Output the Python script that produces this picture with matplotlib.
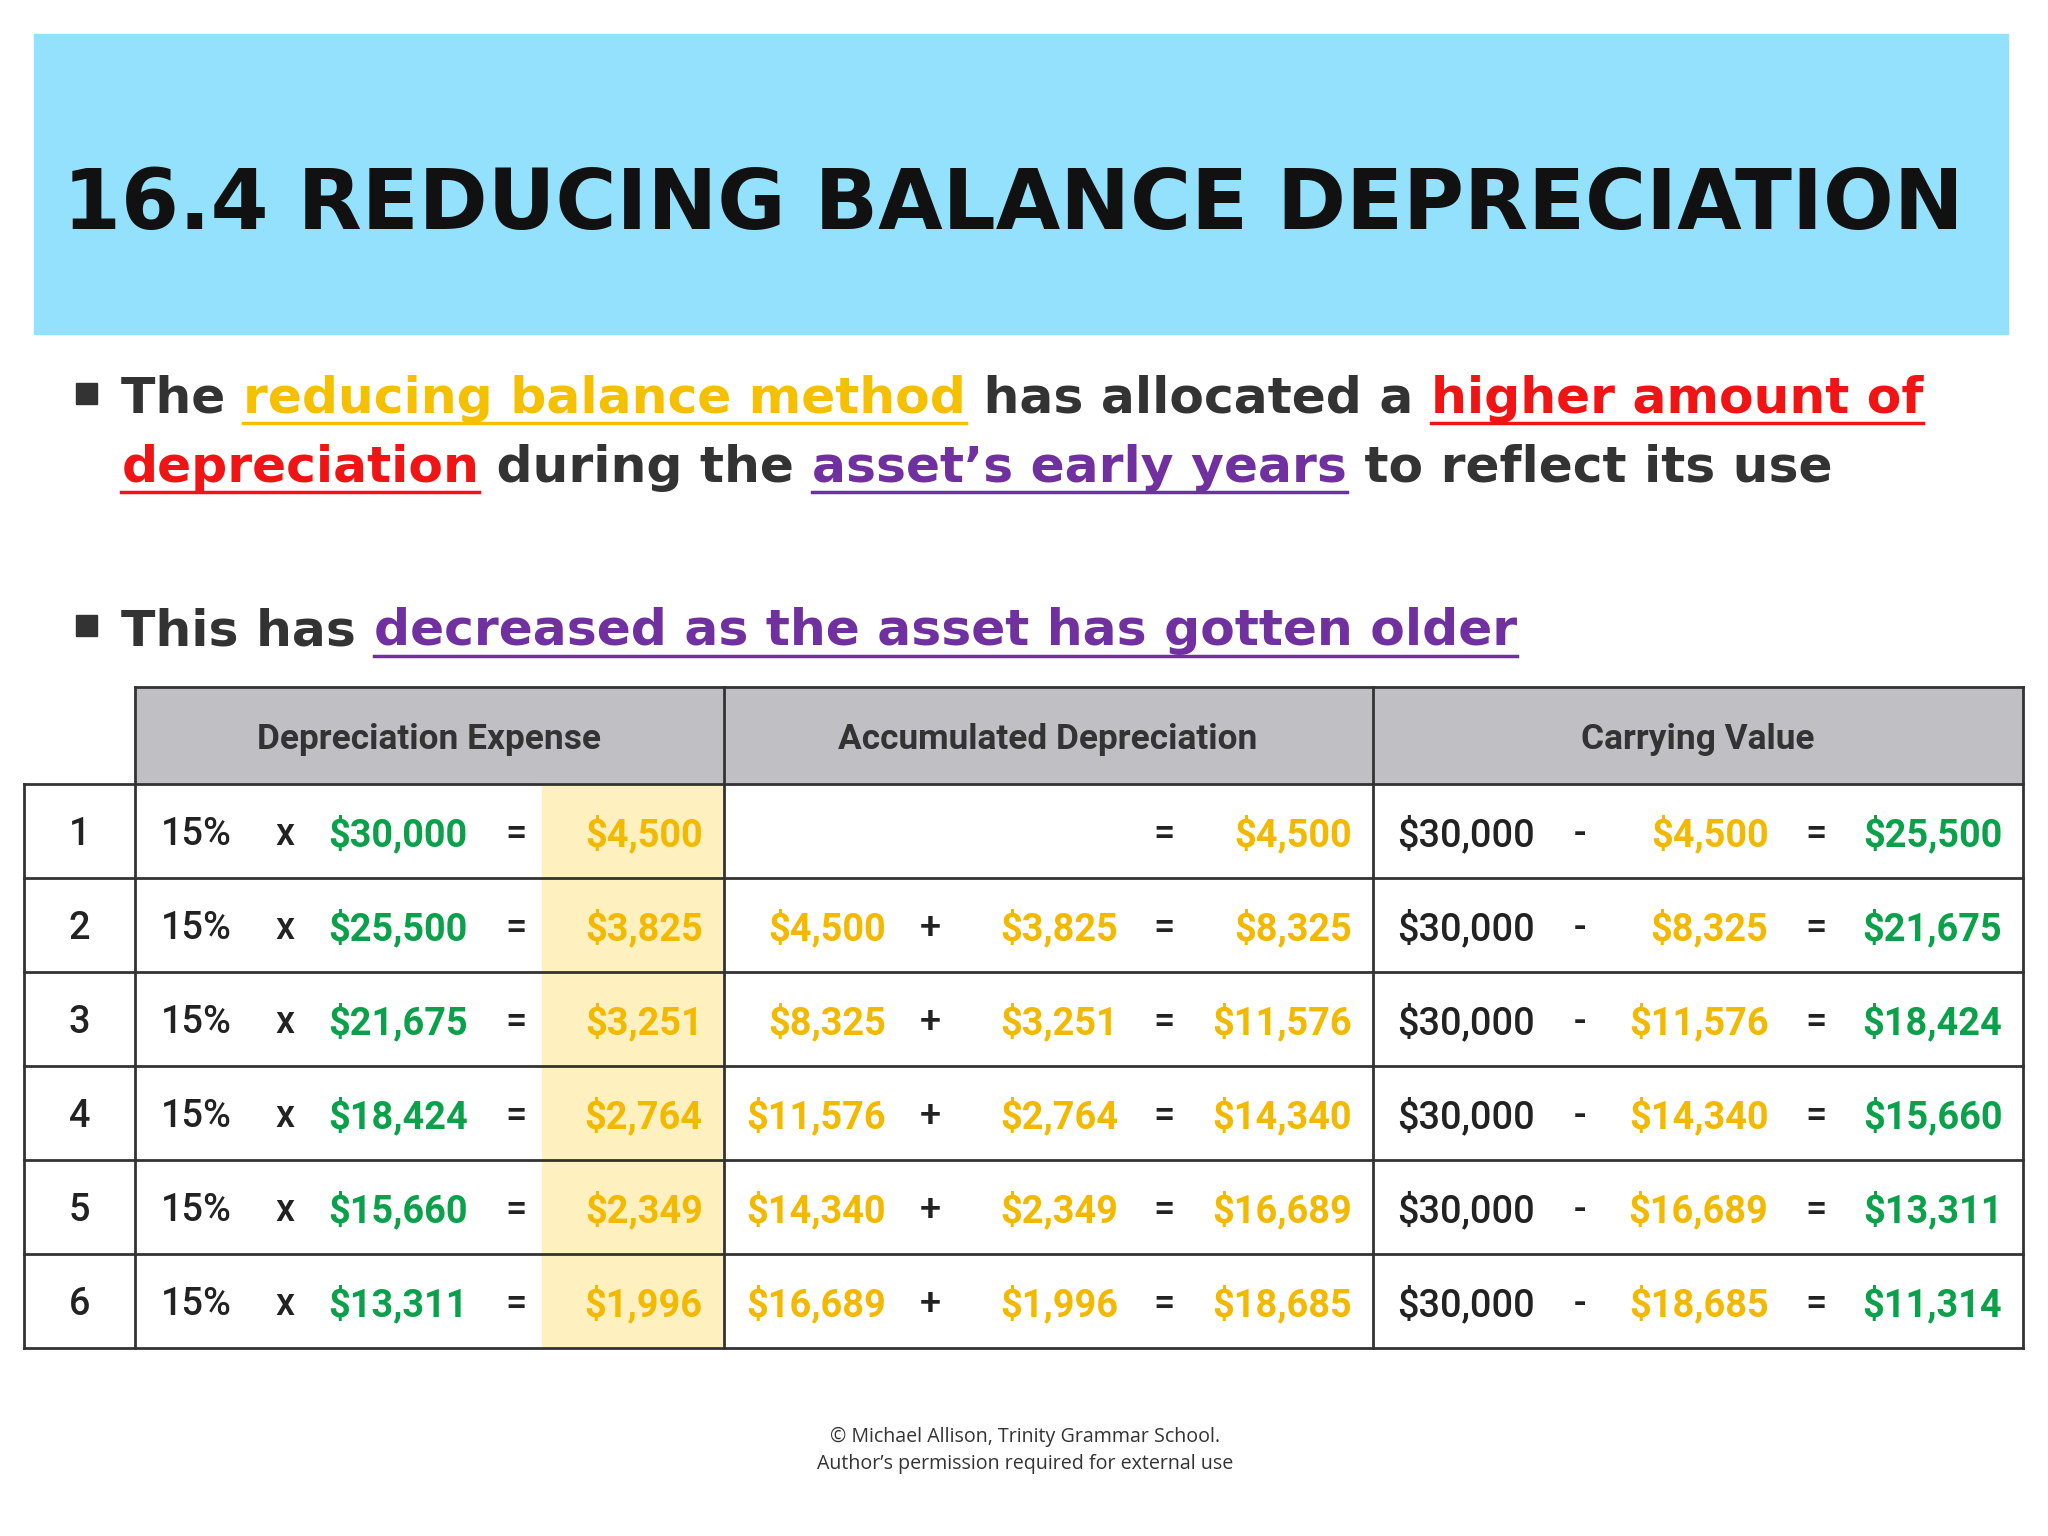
import matplotlib
matplotlib.use("Agg")
import matplotlib.pyplot as plt
from matplotlib.patches import Rectangle

W, H = 1568, 1176
S = 2048 / W  # ref px -> output px

rate = "15%"
cost = 30000
opening = [30000, 25500, 21675, 18424, 15660, 13311]
expense = [4500, 3825, 3251, 2764, 2349, 1996]
accum = [4500, 8325, 11576, 14340, 16689, 18685]
carrying = [25500, 21675, 18424, 15660, 13311, 11314]
headers = ["Depreciation Expense", "Accumulated Depreciation", "Carrying Value"]

GREEN = "#0BA14B"
YELLOW = "#F2B900"
BLACK = "#222222"
RED = "#F01414"
PURPLE = "#7030A0"
GOLD = "#F5C000"

fig = plt.figure(figsize=(20.48, 15.36), dpi=100)
ax = fig.add_axes([0, 0, 1, 1])
ax.set_xlim(0, W)
ax.set_ylim(H, 0)
ax.axis("off")

def pt(refpx):
    return refpx * S * 0.72

def money(v):
    return "${:,}".format(v)

fig.canvas.draw()
renderer = fig.canvas.get_renderer()
inv = ax.transData.inverted()

def xspan(t):
    bb = t.get_window_extent(renderer)
    (x0, _), (x1, _) = inv.transform([(bb.x0, 0), (bb.x1, 0)])
    return x0, x1

# header band
ax.add_patch(Rectangle((26, 26), 1511, 230, color="#93E1FD", zorder=0))
title = ax.text(48, 157, "16.4 REDUCING BALANCE DEPRECIATION", fontsize=pt(78), fontweight="bold",
                va="center", ha="left", color="#111111", family="DejaVu Sans")
x0, x1 = xspan(title)
title.set_fontsize(pt(78) * (1505 - 48) / (x1 - x0))

def rich_line(x, y, parts, size, target=None):
    if target is not None:
        t = ax.text(x, y, "".join(p[0] for p in parts), fontsize=size, fontweight="bold",
                    family="DejaVu Sans")
        a, b = xspan(t)
        t.remove()
        size = size * (target - x) / (b - a)
    for txt, col, ul in parts:
        t = ax.text(x, y, txt, fontsize=size, fontweight="bold", color=col,
                    va="baseline", ha="left", family="DejaVu Sans")
        x0, x1 = xspan(t)
        if ul:
            w = x1 - x0
            ax.plot([x0, x0 + len(txt.rstrip()) / len(txt) * w], [y + 8, y + 8], color=col, lw=2.5)
        x = x1
    return size

fs = pt(41)
for by in [301, 479]:
    ax.add_patch(Rectangle((58, by - 8), 16, 16, color="#333333"))
fs = rich_line(93, 316, [("The ", "#333333", False), ("reducing balance method", GOLD, True),
                         (" has allocated a ", "#333333", False), ("higher amount of", RED, True)],
               fs, target=1470)
rich_line(93, 369, [("depreciation", RED, True), (" during the ", "#333333", False),
                    ("asset\u2019s early years", PURPLE, True), (" to reflect its use", "#333333", False)], fs)
rich_line(93, 494, [("This has ", "#333333", False),
                    ("decreased as the asset has gotten older", PURPLE, True)], fs)

# table
cols = [18, 103, 554, 1051, 1549]
top, hdr, rh = 526, 600, 72
nrows = len(expense)
bottom = hdr + rh * nrows
ax.add_patch(Rectangle((103, top), 1446, hdr - top, color="#C0BFC4", zorder=0))
ax.add_patch(Rectangle((415, hdr), 139, bottom - hdr, color="#FFF0C0", zorder=0))
lw = 2
ax.plot([103, 1549], [top, top], color="#333", lw=lw)
for c in cols[1:]:
    ax.plot([c, c], [top, bottom], color="#333", lw=lw)
ax.plot([18, 18], [hdr, bottom], color="#333", lw=lw)
for i in range(nrows + 1):
    ax.plot([18, 1549], [hdr + i * rh] * 2, color="#333", lw=lw)
for i, h in enumerate(headers):
    ax.text((cols[i + 1] + cols[i + 2]) / 2, (top + hdr) / 2 + 3, h, fontsize=pt(27),
            fontweight="bold", color="#333333", ha="center", va="center", family="Roboto")

tf = pt(29)
def cell(x, y, s, col, ha="right", weight="bold"):
    ax.text(x, y, s, fontsize=tf, fontweight=weight, color=col, ha=ha, va="center", family="Roboto")

for i in range(nrows):
    y = hdr + rh * i + rh / 2 + 3
    cell(61, y, str(i + 1), BLACK, "center", "medium")
    cell(123, y, rate, BLACK, "left", "medium")
    cell(218, y, "x", BLACK, "center", "medium")
    cell(358, y, money(opening[i]), GREEN)
    cell(395, y, "=", BLACK, "center", "medium")
    cell(538, y, money(expense[i]), YELLOW)
    if i > 0:
        cell(678, y, money(accum[i - 1]), YELLOW)
        cell(712, y, "+", BLACK, "center", "medium")
        cell(856, y, money(expense[i]), YELLOW)
    cell(891, y, "=", BLACK, "center", "medium")
    cell(1035, y, money(accum[i]), YELLOW)
    cell(1070, y, money(cost), BLACK, "left", "medium")
    cell(1210, y, "-", BLACK, "center", "medium")
    cell(1354, y, money(accum[i]), YELLOW)
    cell(1390, y, "=", BLACK, "center", "medium")
    cell(1533, y, money(carrying[i]), GREEN)

ax.text(785, 1100, "\u00a9 Michael Allison, Trinity Grammar School.", fontsize=pt(15),
        ha="center", va="center", color="#333333", family="Open Sans")
ax.text(785, 1121, "Author\u2019s permission required for external use", fontsize=pt(15),
        ha="center", va="center", color="#333333", family="Open Sans")

fig.savefig("out.png", dpi=100)
